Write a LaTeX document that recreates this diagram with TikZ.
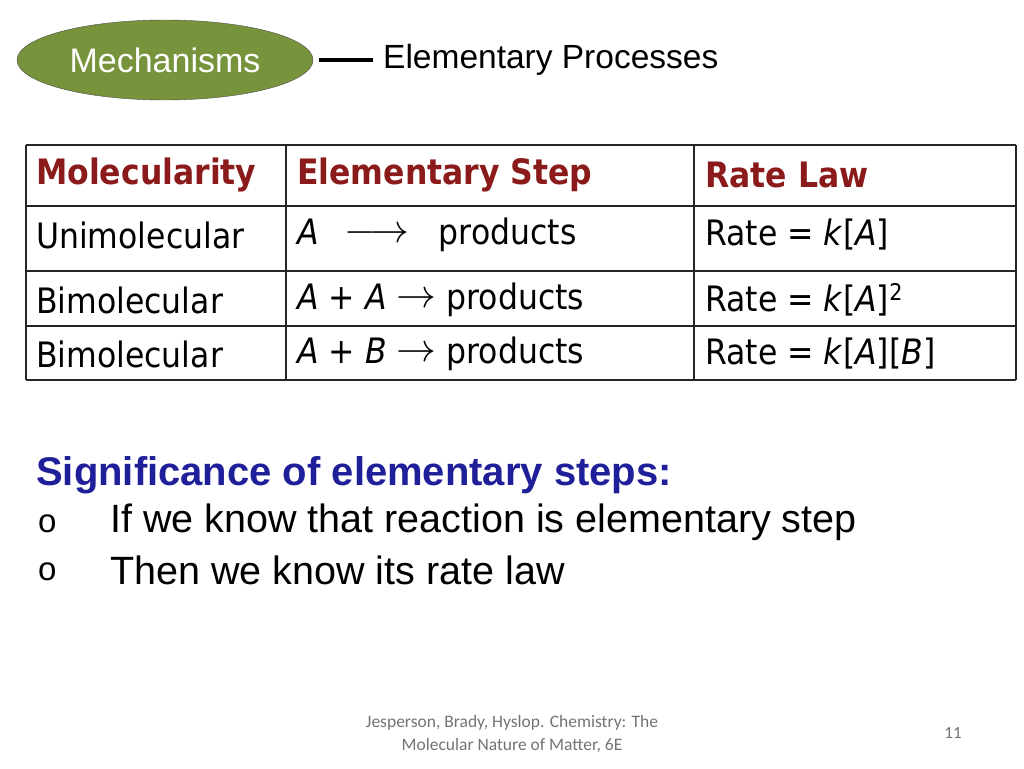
\documentclass[tikz,border=0pt]{standalone}
\usepackage{fontspec}
\usepackage{graphicx}
\setmainfont{Liberation Sans}
\newfontfamily\tfont[FakeStretch=0.9]{DejaVu Sans}
\newfontfamily\ffont{Carlito}
\usetikzlibrary{shapes.geometric}
\definecolor{hdr}{HTML}{8B1A1A}
\definecolor{sig}{HTML}{1F1F99}
\definecolor{olive}{HTML}{77933C}
\newcommand{\thinarr}{\raisebox{2pt}{\scalebox{1.6}{$\rightarrow$}}}
\newcommand{\thinlarr}{\raisebox{2pt}{\scalebox{1.6}{$\longrightarrow$}}}
\begin{document}
\begin{tikzpicture}[x=1pt,y=-1pt,
  cell/.style={anchor=west,inner sep=0pt,font=\tfont\fontsize{35}{38}\selectfont},
  head/.style={cell,text=hdr,font=\tfont\bfseries\fontsize{35}{38}\selectfont},
  grid/.style={line width=1.3pt,draw=black!85}]
\useasboundingbox (0,0) rectangle (1024,768);
\node[ellipse,draw=black!70,fill=olive,minimum width=296,minimum height=80,inner sep=0pt,text=white,font=\fontsize{34}{36}\selectfont] (mech) at (165,60) {Mechanisms};
\node[anchor=west,inner sep=0pt,font=\fontsize{33.5}{36}\selectfont] (ep) at (383,60) {Elementary Processes};
\draw[line width=3pt] (mech.east) ++(6,0) coordinate (l1) -- ([xshift=-10pt]ep.west);
% table grid
\foreach \y in {145,206,271,326,380} \draw[grid] (26,\y) -- (1016,\y);
\foreach \x in {26,286,694,1016} \draw[grid] (\x,145) -- (\x,380);
\node[head] (h1) at (36,175) {Molecularity};
\node[head] (h2) at (297,175) {Elementary Step};
\node[head] (h3) at (705,175) {Rate Law};
\node[cell] (a1) at (36,235) {Unimolecular};
\node[cell] (b1) at (297,235) {\textit{A}\hspace{26pt}\thinlarr\hspace{30pt}products};
\node[cell] (c1) at (705,235) {Rate = \textit{k}[\textit{A}]};
\node[cell] (a2) at (36,300) {Bimolecular};
\node[cell] (b2) at (297,300) {\textit{A} + \textit{A} \thinarr\ products};
\node[cell] (c2) at (705,300) {Rate = \textit{k}[\textit{A}]\raisebox{11pt}{\fontsize{23}{24}\selectfont 2}};
\node[cell] (a3) at (36,354) {Bimolecular};
\node[cell] (b3) at (297,354) {\textit{A} + \textit{B} \thinarr\ products};
\node[cell] (c3) at (705,354) {Rate = \textit{k}[\textit{A}][\textit{B}]};
% text
\node[anchor=west,inner sep=0pt,text=sig,font=\bfseries\fontsize{40}{42}\selectfont] (sg) at (36,475) {Significance of elementary steps:};
\node[anchor=west,inner sep=0pt,font=\fontsize{33}{34}\selectfont] (o1) at (38,524) {o};
\node[anchor=west,inner sep=0pt,font=\fontsize{39.5}{42}\selectfont] (t1) at (110,522) {If we know that reaction is elementary step};
\node[anchor=west,inner sep=0pt,font=\fontsize{33}{34}\selectfont] (o2) at (38,572) {o};
\node[anchor=west,inner sep=0pt,font=\fontsize{39.5}{42}\selectfont] (t2) at (110,570) {Then we know its rate law};
% footer
\node[align=center,text=black!55,font=\ffont\fontsize{17.5}{23}\selectfont] (ft) at (512,734) {Jesperson, Brady, Hyslop. Chemistry: The\\Molecular Nature of Matter, 6E};
\node[text=black!55,font=\ffont\fontsize{17}{18}\selectfont] (pg) at (953,733) {11};
\end{tikzpicture}
\end{document}
